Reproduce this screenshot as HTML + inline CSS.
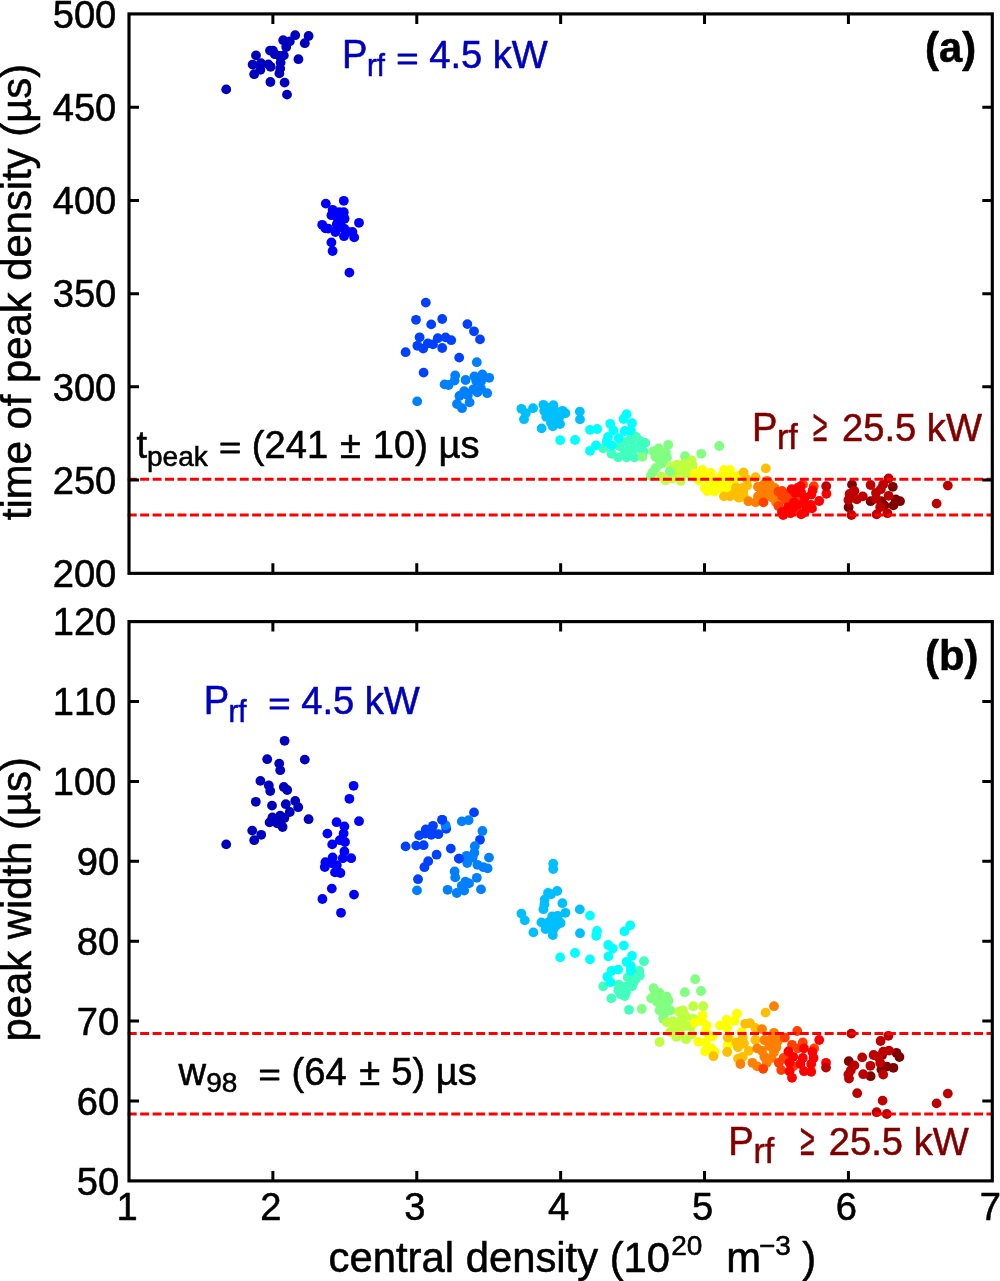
<!DOCTYPE html>
<html lang="en"><head><meta charset="utf-8"><title>Peak density timing and width versus central density</title>
<style>
html,body{margin:0;padding:0;background:#fff;}
body{width:1000px;height:1281px;overflow:hidden;}
svg{display:block;}
text{font-kerning:none;white-space:pre;font-family:"Liberation Sans",Arial,Helvetica,sans-serif;color:#000;fill:currentColor;stroke:currentColor;stroke-width:.55px;stroke-linejoin:round;}
.t{font-size:38.15px;}
.l{font-size:41.8px;}
.s{font-size:28px;}
.b{font-size:41.8px;font-weight:bold;}
.ax{stroke:#000;stroke-width:3.15;fill:none;}
.tk{stroke:#000;stroke-width:3;fill:none;}
.dl{stroke:#ff0000;stroke-width:3;stroke-dasharray:9 3.446;fill:none;}
</style></head><body>
<svg width="1000" height="1281" viewBox="0 0 1000 1281">
<rect x="0" y="0" width="1000" height="1281" fill="#fff"/>
<g id="pts-a">
<g fill="#0000BF">
<circle cx="226.2" cy="89.4" r="4.9"/><circle cx="287.0" cy="94.6" r="4.9"/><circle cx="284.6" cy="82.6" r="4.9"/><circle cx="270.4" cy="82.0" r="4.9"/><circle cx="254.2" cy="74.2" r="4.9"/><circle cx="252.6" cy="64.6" r="4.9"/><circle cx="256.0" cy="55.4" r="4.9"/><circle cx="261.0" cy="63.2" r="4.9"/><circle cx="260.4" cy="69.8" r="4.9"/><circle cx="268.4" cy="64.4" r="4.9"/><circle cx="270.0" cy="50.6" r="4.9"/><circle cx="273.0" cy="50.6" r="4.9"/><circle cx="274.8" cy="54.2" r="4.9"/><circle cx="279.6" cy="56.0" r="4.9"/><circle cx="283.8" cy="55.4" r="4.9"/><circle cx="280.6" cy="62.6" r="4.9"/><circle cx="280.2" cy="68.6" r="4.9"/><circle cx="279.4" cy="73.4" r="4.9"/><circle cx="283.2" cy="40.2" r="4.9"/><circle cx="289.8" cy="41.4" r="4.9"/><circle cx="286.2" cy="47.0" r="4.9"/><circle cx="295.2" cy="35.2" r="4.9"/><circle cx="308.6" cy="36.0" r="4.9"/><circle cx="304.8" cy="43.2" r="4.9"/><circle cx="298.4" cy="59.2" r="4.9"/><circle cx="270.6" cy="66.8" r="4.9"/>
</g>
<g fill="#0000FF">
<circle cx="325.8" cy="203.6" r="4.9"/><circle cx="343.8" cy="200.8" r="4.9"/><circle cx="332.6" cy="209.8" r="4.9"/><circle cx="331.4" cy="215.2" r="4.9"/><circle cx="339.2" cy="212.2" r="4.9"/><circle cx="343.8" cy="212.2" r="4.9"/><circle cx="344.6" cy="218.8" r="4.9"/><circle cx="338.0" cy="219.4" r="4.9"/><circle cx="336.8" cy="224.2" r="4.9"/><circle cx="322.2" cy="224.8" r="4.9"/><circle cx="325.4" cy="228.4" r="4.9"/><circle cx="328.2" cy="228.6" r="4.9"/><circle cx="359.0" cy="222.8" r="4.9"/><circle cx="341.6" cy="227.2" r="4.9"/><circle cx="344.6" cy="229.0" r="4.9"/><circle cx="335.4" cy="232.0" r="4.9"/><circle cx="344.0" cy="236.2" r="4.9"/><circle cx="352.4" cy="232.0" r="4.9"/><circle cx="354.2" cy="237.4" r="4.9"/><circle cx="331.4" cy="242.4" r="4.9"/><circle cx="332.6" cy="251.0" r="4.9"/><circle cx="349.4" cy="272.6" r="4.9"/><circle cx="340.4" cy="222.4" r="4.9"/><circle cx="347.6" cy="232.0" r="4.9"/>
</g>
<g fill="#0040FF">
<circle cx="425.8" cy="302.6" r="4.9"/><circle cx="416.0" cy="319.8" r="4.9"/><circle cx="442.2" cy="319.0" r="4.9"/><circle cx="431.2" cy="324.4" r="4.9"/><circle cx="467.4" cy="324.1" r="4.9"/><circle cx="474.0" cy="331.3" r="4.9"/><circle cx="480.0" cy="339.4" r="4.9"/><circle cx="419.6" cy="337.3" r="4.9"/><circle cx="417.4" cy="345.8" r="4.9"/><circle cx="423.2" cy="348.6" r="4.9"/><circle cx="427.8" cy="343.4" r="4.9"/><circle cx="433.0" cy="344.4" r="4.9"/><circle cx="437.8" cy="338.2" r="4.9"/><circle cx="445.6" cy="337.4" r="4.9"/><circle cx="451.2" cy="340.2" r="4.9"/><circle cx="442.2" cy="348.0" r="4.9"/><circle cx="405.6" cy="352.2" r="4.9"/><circle cx="459.2" cy="357.6" r="4.9"/><circle cx="423.6" cy="372.6" r="4.9"/>
</g>
<g fill="#0080FF">
<circle cx="476.8" cy="362.2" r="4.9"/><circle cx="417.2" cy="401.4" r="4.9"/><circle cx="455.2" cy="375.4" r="4.9"/><circle cx="454.6" cy="380.6" r="4.9"/><circle cx="444.6" cy="384.4" r="4.9"/><circle cx="448.6" cy="385.0" r="4.9"/><circle cx="465.6" cy="380.0" r="4.9"/><circle cx="474.4" cy="376.4" r="4.9"/><circle cx="482.4" cy="374.4" r="4.9"/><circle cx="489.2" cy="377.8" r="4.9"/><circle cx="476.2" cy="381.0" r="4.9"/><circle cx="481.0" cy="381.6" r="4.9"/><circle cx="464.2" cy="391.2" r="4.9"/><circle cx="473.2" cy="389.4" r="4.9"/><circle cx="481.0" cy="388.8" r="4.9"/><circle cx="487.2" cy="393.2" r="4.9"/><circle cx="477.4" cy="392.4" r="4.9"/><circle cx="459.4" cy="396.0" r="4.9"/><circle cx="467.8" cy="395.4" r="4.9"/><circle cx="469.6" cy="402.4" r="4.9"/><circle cx="457.0" cy="404.0" r="4.9"/><circle cx="462.0" cy="408.2" r="4.9"/>
</g>
<g fill="#00BFFF">
<circle cx="521.4" cy="408.8" r="4.9"/><circle cx="533.0" cy="408.2" r="4.9"/><circle cx="525.8" cy="413.2" r="4.9"/><circle cx="524.0" cy="419.2" r="4.9"/><circle cx="543.4" cy="404.8" r="4.9"/><circle cx="553.4" cy="405.2" r="4.9"/><circle cx="544.2" cy="410.8" r="4.9"/><circle cx="550.4" cy="410.8" r="4.9"/><circle cx="556.4" cy="412.0" r="4.9"/><circle cx="562.6" cy="410.8" r="4.9"/><circle cx="565.4" cy="413.2" r="4.9"/><circle cx="546.2" cy="416.8" r="4.9"/><circle cx="552.8" cy="417.4" r="4.9"/><circle cx="558.8" cy="418.0" r="4.9"/><circle cx="551.0" cy="422.8" r="4.9"/><circle cx="555.8" cy="422.2" r="4.9"/><circle cx="560.0" cy="424.0" r="4.9"/><circle cx="552.8" cy="426.4" r="4.9"/><circle cx="541.6" cy="428.4" r="4.9"/><circle cx="579.8" cy="411.6" r="4.9"/><circle cx="580.0" cy="419.4" r="4.9"/><circle cx="548.0" cy="407.8" r="4.9"/><circle cx="560.6" cy="415.0" r="4.9"/>
</g>
<g fill="#40FFBF">
<circle cx="603.2" cy="448.4" r="4.9"/><circle cx="619.4" cy="446.0" r="4.9"/><circle cx="631.4" cy="436.4" r="4.9"/><circle cx="636.2" cy="437.0" r="4.9"/><circle cx="626.0" cy="441.8" r="4.9"/><circle cx="630.8" cy="443.0" r="4.9"/><circle cx="640.4" cy="441.2" r="4.9"/><circle cx="645.2" cy="443.0" r="4.9"/><circle cx="629.6" cy="447.8" r="4.9"/><circle cx="638.0" cy="447.8" r="4.9"/><circle cx="643.4" cy="451.4" r="4.9"/><circle cx="611.6" cy="453.8" r="4.9"/><circle cx="618.2" cy="457.4" r="4.9"/><circle cx="626.6" cy="457.4" r="4.9"/><circle cx="634.4" cy="457.4" r="4.9"/><circle cx="624.8" cy="452.0" r="4.9"/><circle cx="632.0" cy="452.6" r="4.9"/>
</g>
<g fill="#00FFFF">
<circle cx="560.2" cy="440.2" r="4.9"/><circle cx="575.0" cy="440.0" r="4.9"/><circle cx="626.6" cy="414.2" r="4.9"/><circle cx="623.6" cy="419.0" r="4.9"/><circle cx="632.0" cy="423.2" r="4.9"/><circle cx="610.2" cy="423.8" r="4.9"/><circle cx="597.2" cy="429.0" r="4.9"/><circle cx="590.0" cy="429.8" r="4.9"/><circle cx="613.4" cy="430.4" r="4.9"/><circle cx="624.8" cy="431.0" r="4.9"/><circle cx="630.8" cy="430.4" r="4.9"/><circle cx="608.0" cy="437.0" r="4.9"/><circle cx="618.8" cy="438.2" r="4.9"/><circle cx="606.8" cy="441.2" r="4.9"/><circle cx="611.6" cy="445.4" r="4.9"/><circle cx="596.0" cy="445.4" r="4.9"/><circle cx="590.0" cy="450.8" r="4.9"/>
</g>
<g fill="#80FF80">
<circle cx="668.2" cy="444.8" r="4.9"/><circle cx="658.6" cy="448.4" r="4.9"/><circle cx="653.2" cy="451.4" r="4.9"/><circle cx="665.8" cy="452.0" r="4.9"/><circle cx="655.6" cy="456.8" r="4.9"/><circle cx="664.0" cy="458.0" r="4.9"/><circle cx="642.4" cy="456.8" r="4.9"/><circle cx="685.0" cy="456.2" r="4.9"/><circle cx="701.2" cy="453.8" r="4.9"/><circle cx="719.2" cy="446.0" r="4.9"/><circle cx="660.4" cy="464.0" r="4.9"/><circle cx="655.6" cy="468.2" r="4.9"/><circle cx="652.6" cy="472.4" r="4.9"/><circle cx="650.8" cy="476.0" r="4.9"/><circle cx="661.0" cy="453.2" r="4.9"/><circle cx="667.0" cy="457.4" r="4.9"/><circle cx="662.8" cy="462.8" r="4.9"/><circle cx="659.2" cy="459.2" r="4.9"/><circle cx="670.0" cy="471.4" r="4.9"/>
</g>
<g fill="#BFFF40">
<circle cx="677.2" cy="464.6" r="4.9"/><circle cx="671.2" cy="466.4" r="4.9"/><circle cx="691.6" cy="460.4" r="4.9"/><circle cx="692.8" cy="465.8" r="4.9"/><circle cx="685.6" cy="468.8" r="4.9"/><circle cx="679.6" cy="471.2" r="4.9"/><circle cx="688.0" cy="473.6" r="4.9"/><circle cx="661.6" cy="476.6" r="4.9"/><circle cx="665.8" cy="480.2" r="4.9"/><circle cx="680.8" cy="480.8" r="4.9"/><circle cx="676.0" cy="476.0" r="4.9"/><circle cx="694.0" cy="476.0" r="4.9"/><circle cx="684.4" cy="464.0" r="4.9"/><circle cx="674.8" cy="470.6" r="4.9"/><circle cx="682.0" cy="476.0" r="4.9"/><circle cx="690.4" cy="470.6" r="4.9"/><circle cx="672.4" cy="478.4" r="4.9"/>
</g>
<g fill="#FFFF00">
<circle cx="702.4" cy="470.0" r="4.9"/><circle cx="694.6" cy="473.6" r="4.9"/><circle cx="710.8" cy="473.0" r="4.9"/><circle cx="724.0" cy="470.0" r="4.9"/><circle cx="730.0" cy="470.0" r="4.9"/><circle cx="721.6" cy="476.0" r="4.9"/><circle cx="728.8" cy="476.0" r="4.9"/><circle cx="736.0" cy="477.2" r="4.9"/><circle cx="742.0" cy="474.8" r="4.9"/><circle cx="698.8" cy="480.2" r="4.9"/><circle cx="704.8" cy="488.0" r="4.9"/><circle cx="707.2" cy="491.0" r="4.9"/><circle cx="714.4" cy="484.4" r="4.9"/><circle cx="714.4" cy="491.6" r="4.9"/><circle cx="721.6" cy="488.0" r="4.9"/><circle cx="727.6" cy="488.0" r="4.9"/><circle cx="709.0" cy="479.6" r="4.9"/><circle cx="718.0" cy="480.8" r="4.9"/><circle cx="703.6" cy="475.4" r="4.9"/><circle cx="712.6" cy="479.0" r="4.9"/><circle cx="724.0" cy="482.0" r="4.9"/><circle cx="733.6" cy="482.6" r="4.9"/><circle cx="738.4" cy="476.0" r="4.9"/>
</g>
<g fill="#FFBF00">
<circle cx="724.0" cy="496.4" r="4.9"/><circle cx="730.0" cy="496.4" r="4.9"/><circle cx="736.0" cy="487.4" r="4.9"/><circle cx="739.6" cy="492.8" r="4.9"/><circle cx="738.4" cy="497.6" r="4.9"/><circle cx="743.2" cy="491.0" r="4.9"/><circle cx="733.6" cy="494.0" r="4.9"/><circle cx="765.8" cy="468.4" r="4.9"/><circle cx="743.6" cy="472.4" r="4.9"/><circle cx="747.2" cy="479.6" r="4.9"/><circle cx="755.6" cy="477.2" r="4.9"/><circle cx="742.4" cy="488.0" r="4.9"/><circle cx="747.2" cy="485.6" r="4.9"/><circle cx="743.6" cy="495.2" r="4.9"/><circle cx="740.0" cy="497.6" r="4.9"/>
</g>
<g fill="#FF8000">
<circle cx="748.4" cy="501.2" r="4.9"/><circle cx="755.6" cy="502.4" r="4.9"/><circle cx="758.0" cy="486.8" r="4.9"/><circle cx="764.0" cy="484.4" r="4.9"/><circle cx="770.0" cy="484.4" r="4.9"/><circle cx="761.6" cy="491.6" r="4.9"/><circle cx="768.8" cy="491.6" r="4.9"/><circle cx="774.8" cy="488.0" r="4.9"/><circle cx="765.2" cy="497.6" r="4.9"/><circle cx="772.4" cy="497.6" r="4.9"/><circle cx="776.0" cy="502.4" r="4.9"/><circle cx="758.0" cy="496.4" r="4.9"/><circle cx="767.0" cy="480.8" r="4.9"/>
</g>
<g fill="#FF4000">
<circle cx="778.4" cy="491.6" r="4.9"/><circle cx="782.0" cy="496.4" r="4.9"/><circle cx="788.0" cy="494.0" r="4.9"/><circle cx="778.4" cy="506.0" r="4.9"/><circle cx="785.6" cy="500.0" r="4.9"/><circle cx="763.4" cy="502.4" r="4.9"/><circle cx="803.0" cy="484.4" r="4.9"/><circle cx="813.8" cy="486.2" r="4.9"/><circle cx="796.4" cy="509.6" r="4.9"/><circle cx="791.6" cy="497.6" r="4.9"/><circle cx="798.8" cy="500.0" r="4.9"/><circle cx="782.0" cy="491.0" r="4.9"/>
</g>
<g fill="#FF0000">
<circle cx="791.6" cy="489.2" r="4.9"/><circle cx="797.6" cy="488.0" r="4.9"/><circle cx="800.6" cy="486.2" r="4.9"/><circle cx="795.2" cy="492.8" r="4.9"/><circle cx="801.2" cy="492.8" r="4.9"/><circle cx="788.0" cy="507.2" r="4.9"/><circle cx="782.0" cy="512.0" r="4.9"/><circle cx="783.2" cy="515.0" r="4.9"/><circle cx="790.4" cy="513.2" r="4.9"/><circle cx="792.8" cy="508.4" r="4.9"/><circle cx="801.2" cy="514.4" r="4.9"/><circle cx="804.8" cy="512.0" r="4.9"/><circle cx="803.6" cy="503.6" r="4.9"/><circle cx="807.2" cy="507.2" r="4.9"/><circle cx="812.0" cy="508.4" r="4.9"/><circle cx="810.8" cy="504.8" r="4.9"/><circle cx="812.6" cy="490.4" r="4.9"/><circle cx="811.4" cy="494.6" r="4.9"/><circle cx="819.2" cy="501.0" r="4.9"/><circle cx="826.4" cy="493.8" r="4.9"/><circle cx="804.8" cy="497.6" r="4.9"/><circle cx="797.6" cy="504.8" r="4.9"/><circle cx="794.0" cy="502.4" r="4.9"/>
</g>
<g fill="#800000">
<circle cx="852.0" cy="484.6" r="4.9"/><circle cx="892.8" cy="486.8" r="4.9"/><circle cx="870.6" cy="501.2" r="4.9"/><circle cx="881.4" cy="501.2" r="4.9"/><circle cx="884.4" cy="505.4" r="4.9"/><circle cx="895.8" cy="499.4" r="4.9"/><circle cx="900.0" cy="501.2" r="4.9"/><circle cx="893.4" cy="505.4" r="4.9"/><circle cx="848.6" cy="507.2" r="4.9"/>
</g>
<g fill="#BF0000">
<circle cx="826.2" cy="486.2" r="4.9"/><circle cx="947.8" cy="485.6" r="4.9"/><circle cx="936.6" cy="503.6" r="4.9"/><circle cx="870.6" cy="485.0" r="4.9"/><circle cx="888.6" cy="478.4" r="4.9"/><circle cx="883.2" cy="484.4" r="4.9"/><circle cx="880.8" cy="489.2" r="4.9"/><circle cx="876.0" cy="492.8" r="4.9"/><circle cx="888.6" cy="495.8" r="4.9"/><circle cx="849.6" cy="494.0" r="4.9"/><circle cx="854.4" cy="491.0" r="4.9"/><circle cx="848.4" cy="500.0" r="4.9"/><circle cx="856.8" cy="499.4" r="4.9"/><circle cx="862.8" cy="496.4" r="4.9"/><circle cx="880.2" cy="507.2" r="4.9"/><circle cx="876.6" cy="514.4" r="4.9"/><circle cx="887.4" cy="513.2" r="4.9"/><circle cx="851.4" cy="515.0" r="4.9"/><circle cx="876.0" cy="498.8" r="4.9"/>
</g>
<circle fill="#80FF80" cx="670.0" cy="471.4" r="4.9"/>
</g>
<g id="pts-b">
<g fill="#0000BF">
<circle cx="284.6" cy="740.8" r="4.9"/><circle cx="267.2" cy="759.2" r="4.9"/><circle cx="304.8" cy="759.6" r="4.9"/><circle cx="279.2" cy="763.6" r="4.9"/><circle cx="280.2" cy="770.2" r="4.9"/><circle cx="260.4" cy="780.9" r="4.9"/><circle cx="268.8" cy="785.4" r="4.9"/><circle cx="270.2" cy="791.0" r="4.9"/><circle cx="283.8" cy="787.0" r="4.9"/><circle cx="287.2" cy="790.0" r="4.9"/><circle cx="255.8" cy="801.8" r="4.9"/><circle cx="272.0" cy="805.6" r="4.9"/><circle cx="285.8" cy="804.2" r="4.9"/><circle cx="295.2" cy="801.0" r="4.9"/><circle cx="298.2" cy="807.2" r="4.9"/><circle cx="289.8" cy="812.0" r="4.9"/><circle cx="280.2" cy="815.6" r="4.9"/><circle cx="272.4" cy="817.4" r="4.9"/><circle cx="284.4" cy="818.0" r="4.9"/><circle cx="269.6" cy="822.4" r="4.9"/><circle cx="277.2" cy="823.4" r="4.9"/><circle cx="282.6" cy="827.0" r="4.9"/><circle cx="308.6" cy="819.2" r="4.9"/><circle cx="252.2" cy="830.6" r="4.9"/><circle cx="261.2" cy="834.8" r="4.9"/><circle cx="254.2" cy="840.2" r="4.9"/><circle cx="226.2" cy="844.4" r="4.9"/>
</g>
<g fill="#0000FF">
<circle cx="353.6" cy="785.8" r="4.9"/><circle cx="349.4" cy="798.8" r="4.9"/><circle cx="359.0" cy="821.2" r="4.9"/><circle cx="336.6" cy="822.2" r="4.9"/><circle cx="344.4" cy="826.4" r="4.9"/><circle cx="327.4" cy="833.6" r="4.9"/><circle cx="343.6" cy="833.4" r="4.9"/><circle cx="339.8" cy="840.2" r="4.9"/><circle cx="345.0" cy="842.0" r="4.9"/><circle cx="332.2" cy="844.4" r="4.9"/><circle cx="344.4" cy="851.4" r="4.9"/><circle cx="332.6" cy="857.4" r="4.9"/><circle cx="342.8" cy="858.2" r="4.9"/><circle cx="351.2" cy="858.2" r="4.9"/><circle cx="325.4" cy="862.2" r="4.9"/><circle cx="324.8" cy="867.0" r="4.9"/><circle cx="332.0" cy="863.4" r="4.9"/><circle cx="336.8" cy="865.2" r="4.9"/><circle cx="335.0" cy="872.4" r="4.9"/><circle cx="340.4" cy="873.0" r="4.9"/><circle cx="331.8" cy="888.6" r="4.9"/><circle cx="322.4" cy="899.0" r="4.9"/><circle cx="354.0" cy="894.6" r="4.9"/><circle cx="341.0" cy="912.8" r="4.9"/>
</g>
<g fill="#0040FF">
<circle cx="474.0" cy="812.4" r="4.9"/><circle cx="442.2" cy="819.8" r="4.9"/><circle cx="433.0" cy="825.8" r="4.9"/><circle cx="425.8" cy="829.4" r="4.9"/><circle cx="431.8" cy="831.2" r="4.9"/><circle cx="419.2" cy="835.4" r="4.9"/><circle cx="425.2" cy="833.6" r="4.9"/><circle cx="431.2" cy="834.8" r="4.9"/><circle cx="438.4" cy="834.2" r="4.9"/><circle cx="446.2" cy="828.8" r="4.9"/><circle cx="405.6" cy="846.4" r="4.9"/><circle cx="416.2" cy="845.6" r="4.9"/><circle cx="423.6" cy="845.2" r="4.9"/><circle cx="450.8" cy="848.6" r="4.9"/><circle cx="436.6" cy="854.7" r="4.9"/><circle cx="428.2" cy="861.2" r="4.9"/><circle cx="424.4" cy="867.2" r="4.9"/><circle cx="418.0" cy="879.2" r="4.9"/><circle cx="459.0" cy="858.6" r="4.9"/><circle cx="480.0" cy="839.8" r="4.9"/>
</g>
<g fill="#0080FF">
<circle cx="445.6" cy="825.2" r="4.9"/><circle cx="461.8" cy="821.4" r="4.9"/><circle cx="468.6" cy="820.2" r="4.9"/><circle cx="482.4" cy="831.0" r="4.9"/><circle cx="474.8" cy="846.2" r="4.9"/><circle cx="474.4" cy="852.8" r="4.9"/><circle cx="466.6" cy="855.8" r="4.9"/><circle cx="472.6" cy="857.6" r="4.9"/><circle cx="489.0" cy="857.6" r="4.9"/><circle cx="467.2" cy="863.0" r="4.9"/><circle cx="477.4" cy="864.8" r="4.9"/><circle cx="483.4" cy="867.2" r="4.9"/><circle cx="487.6" cy="868.4" r="4.9"/><circle cx="454.6" cy="871.4" r="4.9"/><circle cx="455.2" cy="877.4" r="4.9"/><circle cx="476.8" cy="877.8" r="4.9"/><circle cx="465.4" cy="881.6" r="4.9"/><circle cx="469.0" cy="883.4" r="4.9"/><circle cx="447.6" cy="889.8" r="4.9"/><circle cx="481.0" cy="889.4" r="4.9"/><circle cx="456.8" cy="893.0" r="4.9"/><circle cx="464.2" cy="890.6" r="4.9"/><circle cx="417.0" cy="890.4" r="4.9"/><circle cx="461.8" cy="885.8" r="4.9"/>
</g>
<g fill="#00BFFF">
<circle cx="553.2" cy="863.6" r="4.9"/><circle cx="553.2" cy="869.0" r="4.9"/><circle cx="557.2" cy="891.0" r="4.9"/><circle cx="548.0" cy="893.0" r="4.9"/><circle cx="551.0" cy="894.2" r="4.9"/><circle cx="544.6" cy="899.6" r="4.9"/><circle cx="544.4" cy="904.4" r="4.9"/><circle cx="543.4" cy="909.2" r="4.9"/><circle cx="562.4" cy="903.2" r="4.9"/><circle cx="565.4" cy="912.8" r="4.9"/><circle cx="579.8" cy="909.4" r="4.9"/><circle cx="521.4" cy="913.6" r="4.9"/><circle cx="524.8" cy="920.4" r="4.9"/><circle cx="552.2" cy="916.4" r="4.9"/><circle cx="541.4" cy="922.4" r="4.9"/><circle cx="557.6" cy="919.4" r="4.9"/><circle cx="560.6" cy="923.0" r="4.9"/><circle cx="548.0" cy="926.6" r="4.9"/><circle cx="554.0" cy="927.8" r="4.9"/><circle cx="533.4" cy="932.4" r="4.9"/><circle cx="580.0" cy="933.2" r="4.9"/><circle cx="552.8" cy="935.0" r="4.9"/><circle cx="545.6" cy="929.0" r="4.9"/><circle cx="557.6" cy="915.8" r="4.9"/><circle cx="549.2" cy="921.8" r="4.9"/><circle cx="556.4" cy="925.4" r="4.9"/><circle cx="552.8" cy="930.8" r="4.9"/>
</g>
<g fill="#40FFBF">
<circle cx="644.0" cy="961.2" r="4.9"/><circle cx="639.2" cy="970.8" r="4.9"/><circle cx="639.8" cy="975.6" r="4.9"/><circle cx="627.8" cy="977.4" r="4.9"/><circle cx="633.2" cy="982.8" r="4.9"/><circle cx="603.2" cy="986.4" r="4.9"/><circle cx="618.8" cy="984.6" r="4.9"/><circle cx="626.0" cy="986.4" r="4.9"/><circle cx="618.2" cy="990.0" r="4.9"/><circle cx="626.0" cy="992.4" r="4.9"/><circle cx="624.8" cy="996.0" r="4.9"/><circle cx="611.4" cy="998.4" r="4.9"/><circle cx="629.0" cy="1009.8" r="4.9"/><circle cx="632.0" cy="986.4" r="4.9"/><circle cx="635.6" cy="979.2" r="4.9"/><circle cx="620.6" cy="994.2" r="4.9"/>
</g>
<g fill="#00FFFF">
<circle cx="560.2" cy="957.4" r="4.9"/><circle cx="575.0" cy="953.0" r="4.9"/><circle cx="590.0" cy="915.6" r="4.9"/><circle cx="597.0" cy="931.0" r="4.9"/><circle cx="596.2" cy="935.8" r="4.9"/><circle cx="630.2" cy="925.4" r="4.9"/><circle cx="624.4" cy="931.4" r="4.9"/><circle cx="608.2" cy="945.0" r="4.9"/><circle cx="612.8" cy="948.6" r="4.9"/><circle cx="623.8" cy="945.6" r="4.9"/><circle cx="608.4" cy="956.4" r="4.9"/><circle cx="632.0" cy="955.8" r="4.9"/><circle cx="626.6" cy="961.8" r="4.9"/><circle cx="630.8" cy="966.0" r="4.9"/><circle cx="590.0" cy="959.4" r="4.9"/><circle cx="611.6" cy="970.8" r="4.9"/><circle cx="618.2" cy="969.6" r="4.9"/><circle cx="607.4" cy="976.8" r="4.9"/><circle cx="610.4" cy="982.2" r="4.9"/><circle cx="630.8" cy="970.8" r="4.9"/>
</g>
<g fill="#80FF80">
<circle cx="695.2" cy="979.2" r="4.9"/><circle cx="653.6" cy="988.2" r="4.9"/><circle cx="684.8" cy="992.2" r="4.9"/><circle cx="701.0" cy="991.0" r="4.9"/><circle cx="659.6" cy="993.0" r="4.9"/><circle cx="651.2" cy="998.4" r="4.9"/><circle cx="666.8" cy="996.6" r="4.9"/><circle cx="668.6" cy="1000.8" r="4.9"/><circle cx="657.2" cy="1002.0" r="4.9"/><circle cx="662.0" cy="1005.6" r="4.9"/><circle cx="666.8" cy="1008.0" r="4.9"/><circle cx="670.4" cy="1010.4" r="4.9"/><circle cx="659.6" cy="1010.4" r="4.9"/><circle cx="664.4" cy="1014.0" r="4.9"/><circle cx="663.2" cy="1018.8" r="4.9"/><circle cx="641.8" cy="1009.0" r="4.9"/><circle cx="662.0" cy="999.6" r="4.9"/><circle cx="654.8" cy="994.8" r="4.9"/><circle cx="664.4" cy="1002.0" r="4.9"/>
</g>
<g fill="#BFFF40">
<circle cx="693.2" cy="1006.2" r="4.9"/><circle cx="703.2" cy="1006.2" r="4.9"/><circle cx="678.8" cy="1011.6" r="4.9"/><circle cx="683.0" cy="1010.4" r="4.9"/><circle cx="686.0" cy="1016.4" r="4.9"/><circle cx="693.2" cy="1018.8" r="4.9"/><circle cx="672.8" cy="1021.2" r="4.9"/><circle cx="666.8" cy="1022.4" r="4.9"/><circle cx="677.6" cy="1026.0" r="4.9"/><circle cx="686.0" cy="1026.0" r="4.9"/><circle cx="670.4" cy="1032.0" r="4.9"/><circle cx="680.0" cy="1033.2" r="4.9"/><circle cx="692.0" cy="1034.4" r="4.9"/><circle cx="686.0" cy="1039.2" r="4.9"/><circle cx="659.6" cy="1042.0" r="4.9"/><circle cx="681.2" cy="1020.0" r="4.9"/><circle cx="674.0" cy="1027.2" r="4.9"/><circle cx="690.8" cy="1026.0" r="4.9"/><circle cx="676.4" cy="1036.8" r="4.9"/>
</g>
<g fill="#FFFF00">
<circle cx="702.6" cy="1015.4" r="4.9"/><circle cx="737.0" cy="1013.6" r="4.9"/><circle cx="726.6" cy="1019.6" r="4.9"/><circle cx="734.4" cy="1020.8" r="4.9"/><circle cx="720.0" cy="1025.6" r="4.9"/><circle cx="706.8" cy="1025.6" r="4.9"/><circle cx="702.0" cy="1020.8" r="4.9"/><circle cx="694.8" cy="1022.6" r="4.9"/><circle cx="727.2" cy="1028.0" r="4.9"/><circle cx="705.6" cy="1031.6" r="4.9"/><circle cx="712.8" cy="1036.4" r="4.9"/><circle cx="698.4" cy="1041.8" r="4.9"/><circle cx="705.6" cy="1042.4" r="4.9"/><circle cx="711.6" cy="1048.4" r="4.9"/><circle cx="705.0" cy="1051.4" r="4.9"/><circle cx="714.6" cy="1052.0" r="4.9"/><circle cx="727.8" cy="1045.4" r="4.9"/><circle cx="730.2" cy="1040.0" r="4.9"/><circle cx="741.6" cy="1032.2" r="4.9"/><circle cx="709.2" cy="1036.4" r="4.9"/>
</g>
<g fill="#FFBF00">
<circle cx="765.6" cy="1012.6" r="4.9"/><circle cx="745.2" cy="1023.8" r="4.9"/><circle cx="750.0" cy="1023.2" r="4.9"/><circle cx="755.4" cy="1028.0" r="4.9"/><circle cx="742.8" cy="1037.6" r="4.9"/><circle cx="727.8" cy="1037.6" r="4.9"/><circle cx="736.2" cy="1042.4" r="4.9"/><circle cx="744.0" cy="1043.6" r="4.9"/><circle cx="755.4" cy="1040.0" r="4.9"/><circle cx="738.0" cy="1047.2" r="4.9"/><circle cx="727.2" cy="1052.0" r="4.9"/><circle cx="713.4" cy="1056.2" r="4.9"/><circle cx="748.8" cy="1050.8" r="4.9"/><circle cx="738.0" cy="1058.6" r="4.9"/><circle cx="742.8" cy="1056.8" r="4.9"/>
</g>
<g fill="#FF8000">
<circle cx="774.0" cy="1006.2" r="4.9"/><circle cx="762.0" cy="1029.2" r="4.9"/><circle cx="774.0" cy="1032.8" r="4.9"/><circle cx="764.4" cy="1040.0" r="4.9"/><circle cx="771.6" cy="1038.8" r="4.9"/><circle cx="777.6" cy="1041.2" r="4.9"/><circle cx="757.2" cy="1048.4" r="4.9"/><circle cx="762.0" cy="1050.8" r="4.9"/><circle cx="769.2" cy="1046.0" r="4.9"/><circle cx="776.4" cy="1047.2" r="4.9"/><circle cx="774.0" cy="1052.0" r="4.9"/><circle cx="764.4" cy="1056.8" r="4.9"/><circle cx="771.6" cy="1058.0" r="4.9"/><circle cx="752.4" cy="1062.8" r="4.9"/><circle cx="757.2" cy="1066.4" r="4.9"/><circle cx="766.8" cy="1062.8" r="4.9"/><circle cx="740.4" cy="1064.0" r="4.9"/><circle cx="782.4" cy="1037.6" r="4.9"/>
</g>
<g fill="#FF4000">
<circle cx="778.8" cy="1062.8" r="4.9"/><circle cx="763.2" cy="1068.8" r="4.9"/><circle cx="786.0" cy="1059.2" r="4.9"/><circle cx="797.2" cy="1031.0" r="4.9"/><circle cx="784.8" cy="1037.6" r="4.9"/><circle cx="792.0" cy="1044.8" r="4.9"/><circle cx="802.8" cy="1042.4" r="4.9"/><circle cx="798.0" cy="1048.4" r="4.9"/><circle cx="814.2" cy="1048.4" r="4.9"/><circle cx="783.6" cy="1058.0" r="4.9"/><circle cx="781.2" cy="1070.0" r="4.9"/><circle cx="793.2" cy="1066.4" r="4.9"/>
</g>
<g fill="#FF0000">
<circle cx="819.2" cy="1040.0" r="4.9"/><circle cx="788.4" cy="1051.4" r="4.9"/><circle cx="804.0" cy="1048.4" r="4.9"/><circle cx="812.4" cy="1052.0" r="4.9"/><circle cx="793.2" cy="1056.8" r="4.9"/><circle cx="802.8" cy="1058.0" r="4.9"/><circle cx="813.6" cy="1058.0" r="4.9"/><circle cx="811.2" cy="1064.0" r="4.9"/><circle cx="800.4" cy="1064.0" r="4.9"/><circle cx="789.6" cy="1062.8" r="4.9"/><circle cx="789.6" cy="1071.2" r="4.9"/><circle cx="804.0" cy="1071.2" r="4.9"/><circle cx="811.2" cy="1071.8" r="4.9"/><circle cx="792.0" cy="1077.8" r="4.9"/><circle cx="826.0" cy="1062.8" r="4.9"/>
</g>
<g fill="#800000">
<circle cx="848.8" cy="1061.2" r="4.9"/><circle cx="882.0" cy="1055.2" r="4.9"/><circle cx="896.4" cy="1052.8" r="4.9"/><circle cx="899.4" cy="1057.0" r="4.9"/><circle cx="886.8" cy="1066.6" r="4.9"/><circle cx="893.4" cy="1067.8" r="4.9"/><circle cx="870.6" cy="1076.2" r="4.9"/><circle cx="881.4" cy="1069.6" r="4.9"/>
</g>
<g fill="#BF0000">
<circle cx="826.0" cy="1067.6" r="4.9"/><circle cx="851.4" cy="1033.6" r="4.9"/><circle cx="888.4" cy="1035.8" r="4.9"/><circle cx="880.6" cy="1041.0" r="4.9"/><circle cx="862.2" cy="1057.4" r="4.9"/><circle cx="873.6" cy="1055.0" r="4.9"/><circle cx="883.2" cy="1051.6" r="4.9"/><circle cx="889.0" cy="1050.6" r="4.9"/><circle cx="878.4" cy="1057.0" r="4.9"/><circle cx="880.2" cy="1063.0" r="4.9"/><circle cx="870.4" cy="1065.8" r="4.9"/><circle cx="854.4" cy="1065.4" r="4.9"/><circle cx="850.8" cy="1070.2" r="4.9"/><circle cx="848.4" cy="1074.4" r="4.9"/><circle cx="849.0" cy="1078.6" r="4.9"/><circle cx="863.2" cy="1074.2" r="4.9"/><circle cx="883.2" cy="1074.6" r="4.9"/><circle cx="857.2" cy="1093.2" r="4.9"/><circle cx="882.6" cy="1100.6" r="4.9"/><circle cx="876.6" cy="1112.2" r="4.9"/><circle cx="886.8" cy="1114.0" r="4.9"/><circle cx="947.8" cy="1093.6" r="4.9"/><circle cx="936.6" cy="1103.4" r="4.9"/>
</g>
<circle fill="#0040FF" cx="459.0" cy="858.6" r="4.9"/>
<circle fill="#0040FF" cx="442.2" cy="819.8" r="4.9"/>
</g>
<line class="dl" x1="127.7" y1="479.25" x2="992.3" y2="479.25"/>
<line class="dl" x1="127.7" y1="515.1" x2="992.3" y2="515.1"/>
<line class="dl" x1="127.7" y1="1033.5" x2="992.3" y2="1033.5"/>
<line class="dl" x1="127.7" y1="1113.9" x2="992.3" y2="1113.9"/>
<path class="tk" d="M272.88 573.35V563.35M272.88 13.92V23.92M416.77 573.35V563.35M416.77 13.92V23.92M560.65 573.35V563.35M560.65 13.92V23.92M704.53 573.35V563.35M704.53 13.92V23.92M848.42 573.35V563.35M848.42 13.92V23.92M129.00 107.16H139.00M992.30 107.16H982.30M129.00 200.40H139.00M992.30 200.40H982.30M129.00 293.64H139.00M992.30 293.64H982.30M129.00 386.87H139.00M992.30 386.87H982.30M129.00 480.11H139.00M992.30 480.11H982.30"/>
<path class="tk" d="M272.88 1180.90V1170.90M272.88 621.60V631.60M416.77 1180.90V1170.90M416.77 621.60V631.60M560.65 1180.90V1170.90M560.65 621.60V631.60M704.53 1180.90V1170.90M704.53 621.60V631.60M848.42 1180.90V1170.90M848.42 621.60V631.60M129.00 701.50H139.00M992.30 701.50H982.30M129.00 781.40H139.00M992.30 781.40H982.30M129.00 861.30H139.00M992.30 861.30H982.30M129.00 941.20H139.00M992.30 941.20H982.30M129.00 1021.10H139.00M992.30 1021.10H982.30M129.00 1101.00H139.00M992.30 1101.00H982.30"/>
<rect class="ax" x="129" y="13.92" width="863.3" height="559.43"/>
<rect class="ax" x="129" y="621.6" width="863.3" height="559.3"/>
<text class="t" text-anchor="end" transform="translate(116.3 587.1) scale(1 1.026)">200</text>
<text class="t" text-anchor="end" transform="translate(116.3 493.8) scale(1 1.026)">250</text>
<text class="t" text-anchor="end" transform="translate(116.3 400.6) scale(1 1.026)">300</text>
<text class="t" text-anchor="end" transform="translate(116.3 307.3) scale(1 1.026)">350</text>
<text class="t" text-anchor="end" transform="translate(116.3 214.1) scale(1 1.026)">400</text>
<text class="t" text-anchor="end" transform="translate(116.3 120.9) scale(1 1.026)">450</text>
<text class="t" text-anchor="end" transform="translate(116.3 27.6) scale(1 1.026)">500</text>
<text class="t" text-anchor="end" transform="translate(119.1 1194.6) scale(1 1.026)">50</text>
<text class="t" text-anchor="end" transform="translate(119.1 1114.7) scale(1 1.026)">60</text>
<text class="t" text-anchor="end" transform="translate(119.1 1034.8) scale(1 1.026)">70</text>
<text class="t" text-anchor="end" transform="translate(119.1 954.9) scale(1 1.026)">80</text>
<text class="t" text-anchor="end" transform="translate(119.1 875.0) scale(1 1.026)">90</text>
<text class="t" text-anchor="end" transform="translate(116.3 795.1) scale(1 1.026)">100</text>
<text class="t" text-anchor="end" transform="translate(116.3 715.2) scale(1 1.026)">110</text>
<text class="t" text-anchor="end" transform="translate(116.3 635.3) scale(1 1.026)">120</text>
<text class="t" text-anchor="middle" transform="translate(127.0 1220.2) scale(1 1.026)">1</text>
<text class="t" text-anchor="middle" transform="translate(270.9 1220.2) scale(1 1.026)">2</text>
<text class="t" text-anchor="middle" transform="translate(414.8 1220.2) scale(1 1.026)">3</text>
<text class="t" text-anchor="middle" transform="translate(558.6 1220.2) scale(1 1.026)">4</text>
<text class="t" text-anchor="middle" transform="translate(702.5 1220.2) scale(1 1.026)">5</text>
<text class="t" text-anchor="middle" transform="translate(846.4 1220.2) scale(1 1.026)">6</text>
<text class="t" text-anchor="middle" transform="translate(990.3 1220.2) scale(1 1.026)">7</text>
<text class="l" text-anchor="middle" transform="translate(30.8 292.0) rotate(-90)">time of peak density (µs)</text>
<text class="l" text-anchor="middle" transform="translate(30.8 899.3) rotate(-90)">peak width (µs)</text>
<text class="l" x="328.6" y="1271.8">central density (10<tspan class="s" x="671.2" dy="-16.9">20</tspan><tspan class="l" x="726.2" dy="16.9">m</tspan><tspan class="s" x="759" dy="-16.9">−3</tspan><tspan class="l" x="802.3" dy="16.9">)</tspan></text>
<text class="t" style="color:#0000BF" transform="translate(342.10 68.40) scale(1 1.05)">P<tspan style="font-size:29.5px" x="24.80" dy="7.24">rf</tspan></text>
<text class="t" style="color:#0000BF;stroke-width:1px" transform="translate(396.30 68.60) scale(1 0.76)">=</text>
<text class="t" style="color:#0000BF" transform="translate(429.18 68.40) scale(1 1.03)">4.5 kW</text>
<text class="t" style="color:#0000BF" transform="translate(203.70 714.20) scale(1 1.05)">P<tspan style="font-size:29.5px" x="24.80" dy="7.24">rf</tspan></text>
<text class="t" style="color:#0000BF;stroke-width:1px" transform="translate(268.30 714.40) scale(1 0.76)">=</text>
<text class="t" style="color:#0000BF" transform="translate(301.18 714.20) scale(1 1.03)">4.5 kW</text>
<text class="t" style="color:#800000" transform="translate(751.90 440.80) scale(1 1.05)">P<tspan style="font-size:34px" x="25.00" dy="7.52">rf</tspan></text>
<text class="t" style="color:#800000" transform="translate(813.00 440.80) scale(0.68 1.17)">≥</text>
<text class="t" style="color:#800000" transform="translate(842.00 440.80) scale(1 1.03)">25.5 kW</text>
<text class="t" style="color:#800000" transform="translate(728.20 1155.10) scale(1 1.05)">P<tspan style="font-size:34px" x="25.20" dy="7.52">rf</tspan></text>
<text class="t" style="color:#800000" transform="translate(800.30 1155.10) scale(0.68 1.17)">≥</text>
<text class="t" style="color:#800000" transform="translate(828.80 1155.10) scale(1 1.03)">25.5 kW</text>
<text class="t" style="color:#000" transform="translate(136.40 458.00) scale(1 1)">t<tspan class="s" dy="7.6">peak</tspan></text>
<text class="t" style="color:#000;stroke-width:1px" transform="translate(218.90 458.20) scale(1 0.76)">=</text>
<text class="t" style="color:#000" transform="translate(251.78 458.00) scale(1 1.03)">(241 <tspan dx="1.2">±</tspan><tspan dx="1.3"> 10) µs</tspan></text>
<text class="t" style="color:#000" transform="translate(178.60 1085.20) scale(1 1)">w<tspan class="s" dy="7.2">98</tspan></text>
<text class="t" style="color:#000;stroke-width:1px" transform="translate(258.60 1085.40) scale(1 0.76)">=</text>
<text class="t" style="color:#000" transform="translate(291.48 1085.20) scale(1 1.03)">(64 <tspan dx="2.0">±</tspan><tspan dx="0.6"> 5) µs</tspan></text>
<text class="b" x="925.0" y="62.4">(a)</text>
<text class="b" x="925.0" y="669.8">(b)</text>
</svg></body></html>
